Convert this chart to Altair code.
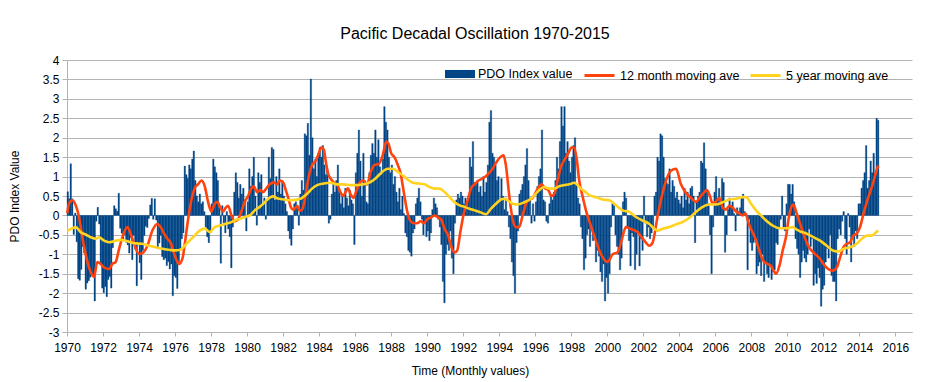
import altair as alt
import pandas as pd

FONT = "Liberation Sans"
GRID = "#b3b3b3"

START_YEAR = 1970
SERIES = ["PDO Index value", "12 month moving ave", "5 year moving ave"]
COLORS = ["#004586", "#ff420e", "#ffd320"]
YEAR_TICKS = list(range(1970, 2017, 2))
Y_TICKS = [-3 + 0.5 * i for i in range(15)]

# Monthly PDO index values (Jan 1970 ...)
PDO_1970S = [
    0.61, 0.43, 1.33, 0.43, -0.49, 0.06, -0.68, -1.63, -1.67, -1.39, -0.80, -0.97,
    -1.90, -1.74, -1.68, -1.59, -1.55, -1.55, -2.20, -0.15, 0.21, -0.22, -1.25, -1.87,
    -1.99, -1.83, -2.09, -1.65, -1.57, -1.87, -0.83, 0.25, 0.17, 0.11, 0.57, -0.33,
    -0.46, -0.61, -0.50, -0.69, -0.76, -0.97, -0.57, -1.14, -0.51, -0.87, -1.81, -0.76,
    -1.22, -1.65, -0.90, -0.52, -0.28, -0.31, -0.08, 0.27, 0.44, -0.10, 0.43, -0.12,
    -0.84, -0.71, -0.51, -1.06, -1.14, -1.10, -1.29, -1.19, -1.38, -1.25, -2.07, -1.55,
    -1.60, -1.88, -1.20, -0.85, -0.60, -0.45, 1.27, 1.05, 0.95, 1.30, 1.20, 1.45,
    1.66, 0.90, 0.50, 0.35, 0.55, 0.30, 0.35, 0.10, -0.30, -0.55, -0.70, -0.45,
    0.30, 1.45, 1.25, 1.10, 0.90, 0.20, -1.23, 0.25, -0.20, -0.45, 0.10, -0.35,
    -0.55, -1.35, -0.30, 0.60, 1.10, 0.85, 0.45, 0.80, 0.55, 0.70, 0.40, -0.40,
]
PDO_1980S = [
    0.35, 1.20, 0.75, 1.00, 1.50, 0.50, -0.25, 1.10, 0.85, 1.05, 0.30, 0.45,
    -0.10, 0.40, 1.50, 0.95, 1.75, 1.70, 0.40, 1.00, 0.60, 1.20, 0.55, 0.90,
    0.50, 0.30, 0.10, -0.40, -0.60, -0.77, -0.35, 0.30, 0.35, 0.25, -0.25, 0.55,
    0.90, 0.65, 2.10, 2.05, 2.37, 1.55, 3.51, 2.00, 1.20, 1.45, 1.00, 1.60,
    1.75, 1.50, 1.80, 1.30, 1.05, 1.20, -0.20, -0.10, 0.55, 0.85, 0.60, 0.90,
    1.30, 0.60, 0.30, 0.55, 0.20, 0.70, 0.45, 0.25, 0.65, 0.40, 0.30, -0.75,
    1.10, 1.60, 2.20, 1.40, 0.50, 1.60, 0.90, 0.35, 0.30, 1.10, 1.55, 1.85,
    1.60, 2.20, 1.50, 1.95, 1.25, 1.05, 1.45, 2.80, 2.40, 2.20, 1.50, 1.10,
    1.30, 0.80, 1.00, 0.60, 0.35, 0.70, 0.15, 0.50, 0.05, -0.45, -0.55, -0.90,
    -0.95, -1.05, -0.45, -0.35, 0.30, 0.45, 0.70, 0.35, -0.10, -0.50, -0.20, -0.55,
]
PDO_1990S = [
    -0.40, -0.65, -0.45, 0.15, 0.45, 0.30, 0.20, -0.10, -0.30, -0.75, -1.70, -2.25,
    -1.00, -0.75, -0.90, -0.40, -1.10, -1.50, -0.20, 0.40, 0.55, 0.45, 0.60, 0.50,
    0.30, 0.45, 0.25, 0.50, 1.50, 1.25, 1.90, 0.85, 0.80, 0.90, 0.60, 0.75,
    0.50, 1.00, 0.60, 0.85, 1.30, 2.40, 2.70, 1.60, 1.50, 1.30, 0.90, 1.00,
    0.35, 0.95, 0.50, 0.15, 0.45, 0.10, -0.30, -0.60, -1.20, -1.55, -2.00, -0.70,
    -0.40, 0.55, 0.65, 0.80, 1.00, 1.30, 1.72, 0.90, 0.45, -0.20, 0.30, -0.15,
    0.35, 0.75, 1.00, 1.20, 2.20, 0.40, 0.35, -0.15, -0.20, 0.30, 0.50, 0.40,
    0.60, 0.90, 1.50, 1.20, 1.90, 2.80, 2.30, 2.80, 1.60, 1.90, 1.40, 1.10,
    1.50, 1.80, 2.00, 0.80, 0.45, 0.30, -0.30, -0.60, -1.40, -1.10, -0.50, -0.35,
    -0.80, -0.30, -0.65, -0.50, -1.20, -0.90, -1.05, -1.45, -1.70, -1.25, -2.20, -1.60,
]
PDO_2000S = [
    -2.00, -1.50, -0.30, 0.30, 0.25, -0.50, -0.80, -1.00, -1.40, -1.10, 0.35, 0.60,
    0.45, -0.30, -0.65, -1.30, -0.45, -0.55, -1.40, -1.00, -0.40, -1.30, -0.60, -0.90,
    0.50, -0.20, -0.55, -0.30, -0.60, -0.45, -0.30, 0.50, 0.60, 1.50, 1.40, 2.10,
    2.05, 1.50, 0.95, 0.85, 0.80, 1.20, 0.60, 0.90, 0.75, 0.45, 0.60, 0.40,
    0.30, 0.50, 0.20, 0.70, 0.40, 0.60, 0.30, 0.70, 0.75, 0.50, -0.70, 0.35,
    0.50, 0.60, 1.40, 1.35, 1.87, 1.20, 0.65, 0.30, -0.50, -1.50, -0.30, 0.60,
    1.00, 0.45, 0.70, 0.30, 0.95, 0.85, -0.95, -0.50, 0.15, 0.45, 0.25, 0.35,
    0.05, -0.40, 0.20, 0.10, 0.20, 0.45, 0.55, 0.10, 0.05, -1.40, -0.10, -0.70,
    -0.90, -0.70, -0.55, -1.50, -1.30, -1.20, -1.55, -1.00, -1.70, -1.25, -1.50, -1.60,
    -1.30, -1.65, -1.45, -1.40, -0.70, -0.75, -0.30, -0.10, 0.50, -0.35, -0.40, 0.30,
]
PDO_2010S = [
    0.80, 0.80, 0.55, 0.80, 0.35, -0.60, -0.85, -1.00, -1.60, -1.20, -0.90, -1.10,
    -1.20, -1.00, -0.35, -0.80, -0.60, -1.80, -1.50, -1.75, -1.35, -1.60, -2.34, -1.90,
    -1.80, -1.20, -0.85, -1.10, -0.50, -1.55, -1.70, -1.70, -2.20, -0.60, -0.35, -0.50,
    -0.15, 0.10, -0.60, -1.00, 0.05, -0.30, -1.20, -0.55, -0.80, -0.40, -0.60, 0.30,
    0.30, 0.70, 0.90, 1.10, 1.80, 0.70, 0.90, 1.40, 1.10, 1.60, 1.00, 2.50,
    2.45,
]

# 12 month moving average (month offset from Jan 1970, value)
RED_MONTH = [
    0.2, 1.3, 3.6, 5.8, 8.0, 10.2, 12.4, 14.7, 18.0, 20.2, 22.4, 24.7, 28.0, 30.2, 32.4,
    34.7, 36.9, 40.2, 42.4, 44.7, 48.0, 50.2, 53.6, 56.9, 60.2, 62.4, 64.7, 66.9, 69.0,
    70.7, 73.0, 74.7, 77.0, 78.4, 80.7, 82.9, 85.1, 87.3, 89.6, 91.8, 94.0, 96.2, 98.4,
    100.0, 102.2, 104.0, 105.8, 107.3, 109.6, 111.8, 114.0, 116.2, 118.4, 120.7, 122.9,
    124.4, 126.7, 128.9, 130.7, 132.9, 135.1, 137.8, 140.0, 141.8, 144.0, 146.2, 147.8,
    149.3, 151.1, 153.3, 155.1, 156.7, 158.9, 161.1, 163.3, 165.6, 167.8, 169.3, 171.1,
    172.4, 173.8, 175.6, 177.8, 180.0, 182.2, 184.0, 185.6, 187.1, 188.9, 190.7, 193.0,
    195.1, 197.3, 200.0, 202.2, 204.9, 207.6, 210.4, 212.7, 214.2, 216.0, 218.2, 220.4,
    222.2, 224.4, 226.7, 228.9, 231.1, 233.3, 235.6, 237.8, 240.0, 242.7, 244.9, 247.1,
    249.3, 251.6, 253.8, 256.0, 258.2, 260.0, 262.2, 264.4, 266.7, 269.3, 271.6, 274.2,
    276.9, 280.2, 283.6, 285.8, 288.7, 290.9, 292.4, 294.7, 296.9, 299.1, 301.3, 303.6,
    305.8, 308.0, 310.2, 312.4, 314.7, 316.2, 318.4, 320.7, 322.9, 324.7, 326.9, 329.1,
    331.8, 334.0, 336.2, 338.0, 339.8, 341.3, 343.5, 346.0, 348.5, 352.4, 355.8, 360.2,
    363.6, 366.9, 369.5, 372.4, 375.8, 380.2, 384.7, 388.0, 390.2, 393.6, 398.0, 402.4,
    405.8, 409.1, 412.4, 415.8, 419.1, 422.4, 424.7, 426.2, 428.4, 430.2, 432.4, 434.7,
    436.9, 439.1, 441.3, 443.6, 445.8, 448.0, 450.2, 452.0, 454.2, 456.4, 458.7, 460.9,
    463.1, 464.7, 466.9, 469.1, 471.3, 472.4, 474.7, 476.9, 479.1, 481.0, 483.0, 484.0,
    486.2, 488.4, 490.7, 492.9, 495.1, 497.3, 499.6, 501.8, 504.0, 507.3, 510.2, 512.9,
    515.1, 517.3, 519.6, 521.8, 524.0, 526.2, 528.4, 530.7, 532.9, 535.1, 537.3, 539.1,
    540.5,
]
RED_VALUE = [
    0.06, 0.30, 0.39, 0.26, -0.04, -0.56, -0.99, -1.34, -1.58, -1.20, -1.25, -1.34, -1.38, -1.25, -1.20,
    -0.86, -0.56, -0.30, -0.47, -0.73, -0.99, -0.97, -0.78, -0.39, -0.22, -0.30, -0.47, -0.60, -0.70,
    -0.90, -1.15, -1.25, -1.10, -0.75, -0.10, 0.40, 0.70, 0.80, 0.90, 0.75, 0.35, 0.10, 0.30,
    0.35, 0.20, 0.10, 0.20, 0.25, 0.00, -0.15, -0.10, 0.10, 0.35, 0.50, 0.70,
    0.75, 0.60, 0.65, 0.60, 0.70, 0.80, 0.85, 0.80, 0.90, 0.85, 0.60, 0.40,
    0.20, 0.15, 0.25, 0.12, 0.15, 0.50, 1.00, 1.30, 1.40, 1.60, 1.75, 1.70,
    1.40, 1.10, 0.95, 0.85, 0.80, 0.60, 0.50, 0.60, 0.70, 0.55, 0.45, 0.65,
    0.85, 0.90, 0.80, 1.10, 1.30, 1.32, 1.55, 1.90, 1.85, 1.60, 1.50, 1.30,
    1.10, 0.60, 0.10, -0.15, -0.20, -0.20, -0.15, -0.20, -0.10, -0.05, 0.00, -0.05,
    -0.10, -0.35, -0.50, -0.80, -0.95, -0.90, -0.40, 0.05, 0.35, 0.70, 0.80, 0.90,
    0.95, 1.05, 1.20, 1.35, 1.50, 1.55, 1.30, 0.50, -0.10, -0.30, -0.30, 0.00,
    0.30, 0.40, 0.45, 0.60, 0.75, 0.80, 0.70, 0.65, 0.50, 0.55, 0.90, 1.25,
    1.45, 1.60, 1.75, 1.75, 1.40, 0.90, 0.50, 0.10, -0.20, -0.65, -1.00, -1.20,
    -1.00, -0.95, -0.65, -0.30, -0.35, -0.43, -0.65, -0.78, -0.70, 0.00, 0.75, 1.15,
    1.20, 0.80, 0.58, 0.45, 0.35, 0.50, 0.60, 0.65, 0.50, 0.30, 0.35, 0.45,
    0.20, 0.15, 0.25, 0.20, 0.10, 0.05, 0.00, 0.05, -0.20, -0.40, -0.60, -0.85,
    -1.10, -1.20, -1.25, -1.30, -1.45, -1.50, -1.30, -0.90, -0.55, -0.05, 0.25, 0.28,
    0.05, -0.20, -0.47, -0.70, -0.86, -0.95, -1.03, -1.12, -1.25, -1.38, -1.42, -1.34,
    -1.08, -0.82, -0.73, -0.69, -0.52, -0.47, -0.30, 0.04, 0.34, 0.60, 0.86, 1.12,
    1.29,
]

# 5 year moving average (month offset from Jan 1970, value)
YEL_MONTH = [
    0.2, 3.6, 5.8, 9.1, 12.4, 15.8, 19.1, 21.3, 24.7, 28.0, 32.4, 35.8, 39.1, 42.4, 45.8,
    50.2, 54.7, 59.1, 63.6, 68.9, 72.0, 75.1, 79.6, 84.0, 88.4, 91.8, 95.1, 98.4, 101.8,
    105.1, 108.4, 111.8, 115.1, 118.4, 121.8, 125.1, 128.4, 131.8, 135.1, 137.5, 140.0,
    144.4, 148.9, 155.6, 160.0, 163.3, 166.7, 171.1, 175.6, 180.0, 184.4, 188.9, 193.3,
    197.8, 202.2, 205.5, 208.9, 213.8, 217.1, 220.4, 223.8, 227.1, 230.4, 233.8, 238.2,
    241.6, 244.9, 248.2, 251.6, 254.9, 258.2, 261.6, 264.9, 268.2, 271.6, 274.9, 279.1,
    282.4, 285.8, 289.1, 291.3, 293.6, 296.9, 300.2, 304.7, 309.1, 312.4, 315.8, 318.0,
    321.3, 324.7, 328.0, 331.3, 334.7, 338.0, 340.2, 342.4, 345.6, 348.0, 352.4, 356.9,
    361.3, 365.8, 370.2, 374.7, 379.1, 383.6, 388.0, 391.3, 393.6, 396.9, 401.3, 405.8,
    410.2, 414.7, 419.1, 423.6, 428.0, 432.4, 436.9, 441.3, 445.8, 450.2, 452.4, 455.8,
    459.1, 462.4, 465.8, 470.2, 474.7, 479.1, 483.6, 486.0, 488.4, 492.9, 497.3, 501.8,
    506.2, 510.7, 514.0, 517.3, 521.8, 526.2, 529.6, 532.9, 536.2, 538.4, 540.5,
]
YEL_VALUE = [
    -0.39, -0.33, -0.30, -0.43, -0.49, -0.56, -0.60, -0.56, -0.65, -0.69, -0.65, -0.63, -0.65, -0.69, -0.72,
    -0.73, -0.78, -0.82, -0.86, -0.89, -0.90, -0.89, -0.73, -0.56, -0.39, -0.34, -0.43, -0.30, -0.26,
    -0.22, -0.19, -0.13, -0.09, -0.04, 0.00, 0.13, 0.22, 0.34, 0.46, 0.49, 0.44,
    0.41, 0.39, 0.43, 0.56, 0.69, 0.78, 0.82, 0.84, 0.80, 0.80, 0.78, 0.78,
    0.80, 0.86, 0.95, 1.08, 1.20, 1.20, 1.12, 1.03, 0.92, 0.84, 0.82, 0.80,
    0.73, 0.69, 0.69, 0.60, 0.47, 0.34, 0.26, 0.22, 0.17, 0.13, 0.09, 0.03,
    0.17, 0.30, 0.41, 0.43, 0.39, 0.30, 0.28, 0.34, 0.43, 0.56, 0.69, 0.73,
    0.69, 0.69, 0.75, 0.78, 0.80, 0.84, 0.78, 0.69, 0.60, 0.52, 0.47, 0.41,
    0.39, 0.26, 0.13, 0.09, -0.04, -0.13, -0.22, -0.34, -0.39, -0.34, -0.30, -0.23,
    -0.17, -0.06, 0.09, 0.22, 0.28, 0.28, 0.34, 0.41, 0.43, 0.47, 0.47, 0.30,
    0.13, 0.00, -0.13, -0.26, -0.33, -0.33, -0.30, -0.36, -0.41, -0.47, -0.56, -0.65,
    -0.78, -0.91, -0.93, -0.86, -0.82, -0.73, -0.60, -0.52, -0.52, -0.46, -0.39,
]

# ---------- tables ----------
pdo = PDO_1970S + PDO_1980S + PDO_1990S + PDO_2000S + PDO_2010S
bar_df = pd.DataFrame({
    "x": [START_YEAR + i / 12 for i in range(len(pdo))],
    "x2": [START_YEAR + (i + 1) / 12 for i in range(len(pdo))],
    "v": pdo,
    "series": SERIES[0],
})
red_df = pd.DataFrame({
    "x": [START_YEAR + m / 12 for m in RED_MONTH],
    "v": RED_VALUE,
    "series": SERIES[1],
})
yel_df = pd.DataFrame({
    "x": [START_YEAR + m / 12 for m in YEL_MONTH],
    "v": YEL_VALUE,
    "series": SERIES[2],
})

xscale = alt.Scale(domain=[1970, 2016.92], nice=False, zero=False)
yscale = alt.Scale(domain=[-3, 4], nice=False, zero=False)

xaxis = alt.Axis(
    values=YEAR_TICKS, labelExpr="'' + datum.value", grid=False,
    domainColor=GRID, tickColor=GRID, tickSize=4, labelPadding=6,
    labelFont=FONT, labelFontSize=12, labelColor="#000",
    labelFlush=False, labelOverlap=False,
    title="Time (Monthly values)", titleFont=FONT, titleFontSize=12,
    titleFontWeight="normal", titleColor="#000",
    titleX=403, titleY=38, titleAlign="center", titleBaseline="middle",
)
yaxis = alt.Axis(
    values=Y_TICKS, labelExpr="'' + datum.value", grid=True, gridColor=GRID,
    domainColor=GRID, tickColor=GRID, tickSize=5, labelPadding=3,
    labelFont=FONT, labelFontSize=12, labelColor="#000",
    labelFlush=False, labelOverlap=False,
    title="PDO Index Value", titleFont=FONT, titleFontSize=12,
    titleFontWeight="normal", titleColor="#000",
    titleX=-53, titleY=136, titleAngle=270, titleAlign="center", titleBaseline="middle",
)

RECT_PATH = "M-1,-0.27L1,-0.27L1,0.27L-1,0.27Z"

fill_legend = alt.Legend(
    orient="none", legendX=378, legendY=-1, direction="horizontal", title=None,
    symbolType=RECT_PATH, symbolSize=900, symbolStrokeWidth=0,
    labelFont=FONT, labelFontSize=12.5, labelColor="#000", labelOffset=3, padding=0,
)
stroke_legend = alt.Legend(
    orient="none", legendX=516, legendY=-1, direction="horizontal", title=None,
    symbolType="stroke", symbolSize=900, symbolStrokeWidth=3,
    labelFont=FONT, labelFontSize=12.5, labelColor="#000", labelOffset=4,
    columnPadding=4, padding=0,
)
stroke_scale = alt.Scale(domain=SERIES[1:], range=COLORS[1:])

bars = alt.Chart(bar_df).mark_bar(stroke=COLORS[0], strokeWidth=0.3).encode(
    x=alt.X("x:Q", scale=xscale, axis=xaxis),
    x2="x2:Q",
    y=alt.Y("v:Q", scale=yscale, axis=yaxis),
    y2=alt.datum(0),
    fill=alt.Fill("series:N", scale=alt.Scale(domain=[SERIES[0]], range=[COLORS[0]]),
                  legend=fill_legend),
)

red = alt.Chart(red_df).mark_line(strokeWidth=2.6, interpolate="monotone").encode(
    x=alt.X("x:Q", scale=xscale, axis=xaxis),
    y=alt.Y("v:Q", scale=yscale, axis=yaxis),
    stroke=alt.Stroke("series:N", scale=stroke_scale, legend=stroke_legend),
)
yel = alt.Chart(yel_df).mark_line(strokeWidth=2.6, interpolate="monotone").encode(
    x=alt.X("x:Q", scale=xscale, axis=xaxis),
    y=alt.Y("v:Q", scale=yscale, axis=yaxis),
    stroke=alt.Stroke("series:N", scale=stroke_scale, legend=stroke_legend),
)

chart = alt.layer(bars, red, yel).properties(
    width=845,
    height=272,
    title=alt.Title(
        text="Pacific Decadal Oscillation 1970-2015", font=FONT, fontSize=16,
        fontWeight="normal", color="#000", anchor="middle", frame="group",
        dx=-14.5, offset=4, baseline="middle",
    ),
    autosize=alt.AutoSizeParams(type="none"),
    padding={"left": 59, "top": 52, "right": 5, "bottom": 46},
).configure(background="white").configure_view(stroke=None)

chart.save("out.html", embed_options={"renderer": "svg", "actions": False})
